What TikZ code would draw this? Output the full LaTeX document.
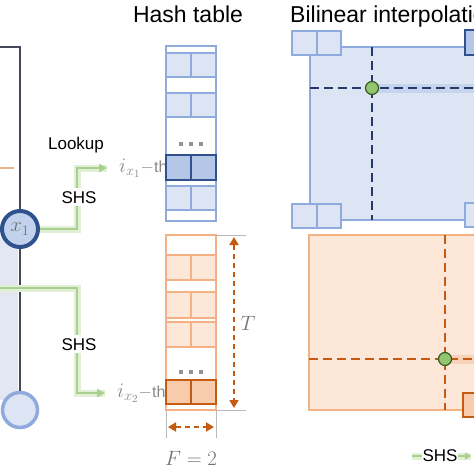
\documentclass[tikz,border=0pt]{standalone}
\usepackage{fontspec}
\setmainfont{Liberation Sans}
\usetikzlibrary{arrows.meta, positioning}
\definecolor{hblue}{RGB}{143,170,220}
\definecolor{hbluefill}{RGB}{221,229,244}
\definecolor{hbluemid}{RGB}{180,199,231}
\definecolor{hbluedark}{RGB}{47,82,143}
\definecolor{hnavy}{RGB}{38,58,105}
\definecolor{horange}{RGB}{244,177,131}
\definecolor{horangefill}{RGB}{252,231,217}
\definecolor{horangemid}{RGB}{248,203,173}
\definecolor{horangedark}{RGB}{197,90,17}
\definecolor{shsgreen}{RGB}{169,209,142}
\definecolor{dotgreen}{RGB}{146,198,110}
\definecolor{dotline}{RGB}{56,87,35}
\definecolor{spinegray}{RGB}{68,72,88}
\definecolor{stripfill}{RGB}{226,231,241}
\definecolor{labelgray}{RGB}{115,115,115}
\newcommand{\bigmath}[1]{{\fontsize{21}{24}\selectfont$#1$}}
\tikzset{
  spine/.style={draw=spinegray, line width=2.5pt},
  tabline/.style={draw=#1, line width=2pt},
  gridline/.style={draw=#1, line width=1.5pt, dash pattern=on 9pt off 5pt},
  shs/.style={
    draw=shsgreen, line width=2.2pt, -{Triangle[length=8pt,width=8pt]},
    preaction={draw=shsgreen!35, line width=7pt, -}
  },
  gdot/.style={circle, draw=dotline, fill=dotgreen, line width=1.2pt, minimum size=13pt, inner sep=0pt},
  dim/.style={
    draw=horangedark, line width=1.8pt, dash pattern=on 5pt off 4pt,
    {Triangle[length=8pt,width=9pt]}-{Triangle[length=8pt,width=9pt]}
  },
  extline/.style={draw=gray!55, line width=1pt},
  title/.style={font=\fontsize{23}{26}\selectfont, inner sep=0pt},
  lbl/.style={font=\fontsize{17}{20}\selectfont, inner sep=3pt, fill=white},
  idx/.style={font=\fontsize{16}{19}\selectfont, text=labelgray!85, inner sep=0pt},
  mathlbl/.style={font=\fontsize{20}{24}\selectfont, text=labelgray, inner sep=0pt}
}
\begin{document}
\begin{tikzpicture}[x=1pt, y=-1pt]
\useasboundingbox (0,0) rectangle (474,474);
\clip (0,0) rectangle (474,474);

% left column
\fill[stripfill] (0,238) rectangle (18,400);
\draw[horange, line width=1.5pt] (0,168) -- (14,168);
\node[circle, draw=hbluedark, fill=hbluemid!80!white, line width=4pt, minimum size=36pt,
  inner sep=0pt, font=\fontsize{22}{24}\selectfont, text=labelgray] (x1) at (20,229) {$x_1$};
\node[circle, draw=hblue, fill=hbluefill, line width=3.5pt, minimum size=35pt] (x2) at (20,410) {};
\coordinate (corner) at (20,47);
\draw[spine] (0,47) -- (corner) -- (x1.north);
\draw[spine] (x1.south) -- (x2.north);

% lookups
\coordinate (tip1) at (107,168);
\coordinate (tip2) at (105,393);
\coordinate (edge) at (0,288);
\node[idx, right=12pt of tip1] (ix1) {\bigmath{i_{x_1}}$-$th};
\node[idx, right=12pt of tip2] (ix2) {\bigmath{i_{x_2}}$-$th};
\draw[shs] (x1.east) -- ++(37,0) |- (tip1);
\draw[shs] (edge) -- ++(77,0) |- (tip2);
\node[lbl, fill=none, anchor=base] (lookup) at (76,149) {Lookup};
\node[lbl, anchor=base] (shs1) at (79,203) {SHS};
\node[lbl, anchor=base] (shs2) at (79,350) {SHS};

% hash tables
\node[title, anchor=base] (hashtitle) at (188,22) {Hash table};
\draw[tabline=hblue, fill=white] (166,46) rectangle (216,221);
\foreach \a/\b in {53/77, 93/117, 186/210}
  \draw[tabline=hblue, fill=hbluefill] (166,\a) rectangle (191,\b) (191,\a) rectangle (216,\b);
\draw[tabline=hbluedark, line width=2.5pt, fill=hbluemid] (166,155) rectangle (191,180) (191,155) rectangle (216,180);
\foreach \d in {181,191,201}
  \fill[gray!85] (\d-2.4,141.6) rectangle ++(4.8,4.8);

\draw[tabline=horange, fill=white] (166,235) rectangle (216,410);
\foreach \a/\b in {255/280, 292/318, 322/347}
  \draw[tabline=horange, fill=horangefill] (166,\a) rectangle (191,\b) (191,\a) rectangle (216,\b);
\draw[tabline=horangedark, line width=2.5pt, fill=horangemid] (166,380) rectangle (191,404) (191,380) rectangle (216,404);
\foreach \d in {181,191,201}
  \fill[gray!85] (\d-2.4,369.6) rectangle ++(4.8,4.8);

% sizes
\coordinate (ttop) at (234,237);
\coordinate (tbot) at (234,408);
\coordinate (fl) at (168,427);
\coordinate (fr) at (214,427);
\draw[extline] (216,235) -- (246,235) (216,410) -- (246,410);
\draw[extline] (166,410) -- (166,438) (216,410) -- (216,438);
\draw[dim] (ttop) -- (tbot);
\draw[dim] (fl) -- (fr);
\node[mathlbl, anchor=base] (tlbl) at (248,330) {$T$};
\node[mathlbl, anchor=base] (flbl) at (191,465) {$F=2$};

% bilinear interpolation
\node[title, anchor=base west] (biltitle) at (290,22) {Bilinear interpolation};
\draw[tabline=hblue, fill=hbluefill] (310,47) rectangle (490,220);
\draw[hblue!70, line width=9pt, opacity=0.5] (372,88) -- (480,88);
\draw[gridline=hnavy] (372,47) -- (372,220);
\draw[gridline=hnavy] (310,88) -- (480,88);
\foreach \x/\y in {292/31, 292/204, 465/203}
  \draw[tabline=hblue, fill=hbluefill] (\x,\y) rectangle ++(24.5,24) (\x+24.5,\y) rectangle ++(24.5,24);
\draw[tabline=hbluedark, line width=2.5pt, fill=hbluemid] (465,30) rectangle ++(24.5,25);
\node[gdot] (p1) at (372,88) {};

\draw[tabline=horange, fill=horangefill] (309,235) rectangle (490,410);
\draw[horange!80, line width=9pt, opacity=0.5] (445,359) -- (480,359);
\draw[gridline=horangedark] (445,235) -- (445,410);
\draw[gridline=horangedark] (309,359) -- (480,359);
\draw[tabline=horangedark, line width=2.5pt, fill=horangemid] (463,393) rectangle ++(24.5,24);
\node[gdot] (p2) at (445,359) {};

\coordinate (s3a) at (412,456);
\coordinate (s3b) at (471,456);
\draw[shs, -{Triangle[length=6pt,width=7pt]}] (s3a) -- (s3b);
\node[lbl, inner sep=1pt, anchor=base] (shs3) at (440,461) {SHS};
\end{tikzpicture}
\end{document}
